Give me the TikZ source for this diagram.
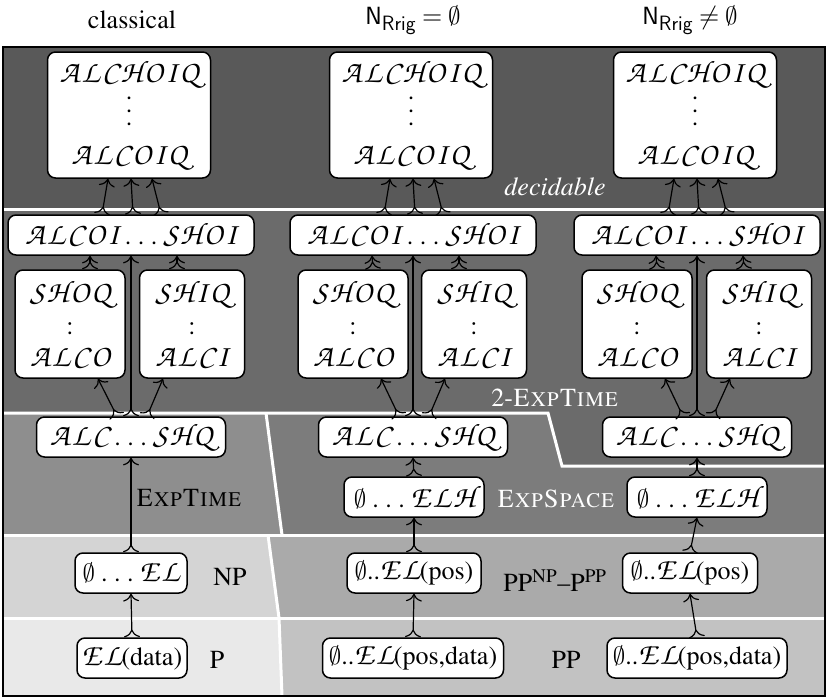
\documentclass[tikz,border=0pt]{standalone}
\usepackage[T1]{fontenc}
\usepackage{mathptmx}
\usepackage[scaled=0.92]{helvet}
\usetikzlibrary{arrows.meta,calc}
\DeclareSymbolFont{cmsyfont}{OMS}{cmsy}{m}{n}
\DeclareMathSymbol{\cmempty}{\mathord}{cmsyfont}{"3B}
\makeatletter
\newcommand\cl[1]{{\fontsize{31}{31}\usefont{T1}{pzc}{m}{it}\@tfor\clx:=#1\do{\clx\kern2.5pt}\kern-2.5pt}}
\makeatother
\newcommand\dts{\kern6pt.\kern6.5pt.\kern6.5pt.\kern6pt}
\newcommand\vdts{\vbox{\baselineskip=13pt\lineskiplimit=-20pt\hbox{.}\hbox{.}\hbox{.}}}
\definecolor{cDec}{gray}{0.35}
\definecolor{cTwo}{gray}{0.42}
\definecolor{cExpT}{gray}{0.555}
\definecolor{cExpS}{gray}{0.485}
\definecolor{cNP}{gray}{0.83}
\definecolor{cP}{gray}{0.915}
\definecolor{cPPNP}{gray}{0.665}
\definecolor{cPP}{gray}{0.76}
\tikzset{
  lbox/.style={draw=black, fill=white, line width=1.5pt, rounded corners=8pt, inner sep=2pt, align=center},
  sbox/.style={lbox, minimum height=40pt},
  conn/.style={line width=1.2pt, arrows={To[reversed,scale=1.8]-To[scale=1.8]}},
  sep/.style={draw=white, line width=3pt},
  lab/.style={inner sep=0pt}
}
\begin{document}
\begin{tikzpicture}[x=1pt,y=-1pt,font=\fontsize{26}{31}\selectfont]
\useasboundingbox (0,0) rectangle (828,699);
% regions
\fill[cTwo] (3,209) rectangle (825,696);
\fill[cDec] (3,47) rectangle (825,209);
\fill[cExpT] (3,413) -- (266,413) -- (282,535) -- (3,535) -- cycle;
\fill[cExpS] (266,413) -- (548,413) -- (562,466) -- (825,466) -- (825,535) -- (282,535) -- cycle;
\fill[cNP] (3,535) -- (268,535) -- (279,618) -- (3,618) -- cycle;
\fill[cPPNP] (268,535) -- (825,535) -- (825,618) -- (279,618) -- cycle;
\fill[cP] (3,618) -- (279,618) -- (282,696) -- (3,696) -- cycle;
\fill[cPP] (279,618) -- (825,618) -- (825,696) -- (282,696) -- cycle;
\draw[sep] (3,209) -- (825,209);
\draw[sep] (3,413) -- (548,413) -- (562,466) -- (825,466);
\draw[sep] (266,413) -- (282,535);
\draw[sep] (3,535) -- (825,535);
\draw[sep] (3,618) -- (825,618);
\draw[sep] (268,535) -- (279,618) -- (282,696);
\draw[line width=1.5pt] (3,47) rectangle (825,696);
% headers
\node[lab] (h1) at (132,20) {classical};
\node[lab] (h2) at (413,20) {$\mathsf{N}_{\mathsf{Rrig}} = \cmempty$};
\node[lab] (h3) at (690,20) {$\mathsf{N}_{\mathsf{Rrig}} \neq \cmempty$};
% region labels
\node[lab,text=white,font=\fontsize{26}{31}\selectfont\itshape] (ldec) at (555,187) {decidable};
\node[lab,text=white] (ltwo) at (555,398) {2-\textsc{ExpTime}};
\node[lab] (lexpt) at (189,498) {\textsc{ExpTime}};
\node[lab,text=white] (lexps) at (556,499) {\textsc{ExpSpace}};
\node[lab] (lnp) at (230,577) {NP};
\node[lab] (lp) at (217,660) {P};
\node[lab] (lppnp) at (555,581) {PP\textsuperscript{NP}--P\textsuperscript{PP}};
\node[lab] (lpp) at (566,660) {PP};
% boxes
\foreach \c/\cx/\ox/\ix in {1/131/70/192, 2/413/353/474, 3/697/637/759}{
  \node[lbox, minimum width=163pt, minimum height=126pt] (t\c) at (\cx-2,115) {\cl{ALCHOIQ}\\[8pt]\vdts\\[8pt]\cl{ALCOIQ}};
  \node[sbox, minimum width=246pt] (a\c) at (\cx,235) {\cl{ALCOI}\dts\cl{SHOI}};
  \node[lbox, minimum width=110pt, minimum height=108pt] (o\c) at (\ox,324) {\cl{SHOQ}\\[1pt]:\\[1pt]\cl{ALCO}};
  \node[lbox, minimum width=105pt, minimum height=108pt] (i\c) at (\ix,324) {\cl{SHIQ}\\[1pt]:\\[1pt]\cl{ALCI}};
  \node[sbox, minimum width=189pt] (s\c) at (\cx,437) {\cl{ALC}\dts\cl{SHQ}};
  \draw[conn] ([xshift=-14pt]s\c.north) -- ([xshift=28pt]o\c.south);
  \draw[conn] ([xshift=16pt]s\c.north) -- ([xshift=-29pt]i\c.south);
  \draw[conn] (s\c.north) -- (a\c.south);
  \draw[conn] ([xshift=20pt]o\c.north) -- ([xshift=-41pt]a\c.south);
  \draw[conn] ([xshift=-15pt]i\c.north) -- ([xshift=46pt]a\c.south);
  \draw[conn] ([xshift=-29pt]a\c.north) -- ([xshift=-21pt]t\c.south);
  \draw[conn] ([xshift=2pt]a\c.north) -- ([xshift=2pt]t\c.south);
  \draw[conn] ([xshift=30pt]a\c.north) -- ([xshift=23pt]t\c.south);
}
\node[sbox, minimum width=112pt] (e1) at (131,573) {$\cmempty$\dts\cl{EL}};
\node[sbox, minimum width=110pt] (d1) at (132,658) {\cl{EL}(data)};
\draw[conn] (e1.north) -- (s1.south);
\draw[conn] (d1.north) -- (e1.south);
\node[sbox, minimum width=140pt] (x2) at (414,497) {$\cmempty$\dts\cl{ELH}};
\node[sbox, minimum width=134pt] (p2) at (414,573) {$\cmempty$..\cl{EL}(pos)};
\node[sbox, minimum width=181pt] (q2) at (413,658) {$\cmempty$..\cl{EL}(pos,data)};
\draw[conn] (x2.north) -- (s2.south);
\draw[conn] (p2.north) -- (x2.south);
\draw[conn] (q2.north) -- (p2.south);
\node[sbox, minimum width=140pt] (x3) at (697,497) {$\cmempty$\dts\cl{ELH}};
\node[sbox, minimum width=135pt] (p3) at (690,573) {$\cmempty$..\cl{EL}(pos)};
\node[sbox, minimum width=180pt] (q3) at (697,658) {$\cmempty$..\cl{EL}(pos,data)};
\draw[conn] (x3.north) -- (s3.south);
\draw[conn] (p3.north) -- (x3.south);
\draw[conn] (q3.north) -- (p3.south);
\end{tikzpicture}
\end{document}
